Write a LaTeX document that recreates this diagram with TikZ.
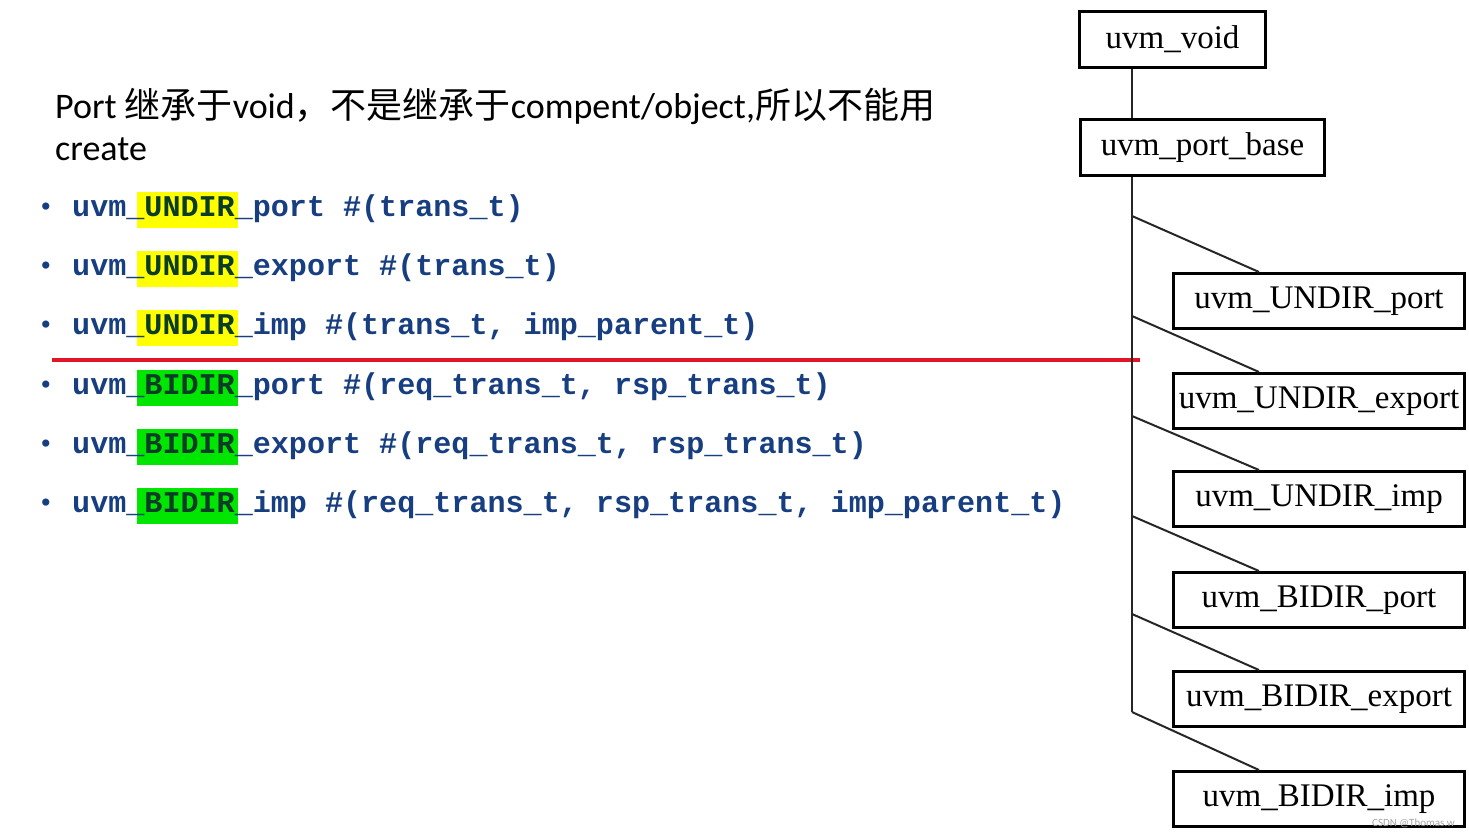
\documentclass[tikz,border=0pt]{standalone}
\usepackage{fontspec}
\setmainfont{Liberation Serif}
\newfontfamily\codef{Liberation Mono}
\newfontfamily\latf{Carlito}
\newfontfamily\cjkf{Noto Sans CJK SC}
\definecolor{codeblue}{RGB}{22,62,128}
\definecolor{hlyellow}{RGB}{255,255,0}
\definecolor{hlgreen}{RGB}{0,230,0}
\definecolor{redline}{RGB}{225,20,40}
\definecolor{hltext}{RGB}{10,60,40}
\tikzset{
 cls/.style={draw=black,line width=3pt,inner sep=0pt,anchor=north west,font=\fontsize{33}{33}\selectfont},
 code/.style={anchor=base west,inner sep=0pt,text=codeblue,font=\codef\bfseries\fontsize{30.1}{30}\selectfont},
 bul/.style={anchor=base,inner sep=0pt,text=codeblue,font=\fontsize{30}{30}\selectfont},
 link/.style={line width=2pt,draw=black!85}
}
\begin{document}
\begin{tikzpicture}[x=1pt,y=-1pt]
\useasboundingbox (0,0) rectangle (1469,836);
% title
\node[anchor=base west,inner sep=0pt,font=\fontsize{36}{36}\selectfont] (t1) at (55,118) {\latf Port \cjkf 继承于\latf void\cjkf ，不是继承于\latf compent/object,\cjkf 所以不能用};
\node[anchor=base west,inner sep=0pt,font=\latf\fontsize{36}{36}\selectfont] (t2) at (55,160) {create};
% highlights
\foreach \y/\c in {216/hlyellow,275/hlyellow,334/hlyellow,394/hlgreen,453/hlgreen,512/hlgreen}{
  \fill[\c] (137,\y-24) rectangle (238,\y+12);
}
% bullets and code
\foreach \y in {216,275,334,394,453,512}{ \node[bul] at (46,\y) {\textbullet}; }
\node[code] (c1) at (72,216) {uvm\_\textcolor{hltext}{UNDIR}\_port \#(trans\_t)};
\node[code] (c2) at (72,275) {uvm\_\textcolor{hltext}{UNDIR}\_export \#(trans\_t)};
\node[code] (c3) at (72,334) {uvm\_\textcolor{hltext}{UNDIR}\_imp \#(trans\_t, imp\_parent\_t)};
\node[code] (c4) at (72,394) {uvm\_\textcolor{hltext}{BIDIR}\_port \#(req\_trans\_t, rsp\_trans\_t)};
\node[code] (c5) at (72,453) {uvm\_\textcolor{hltext}{BIDIR}\_export \#(req\_trans\_t, rsp\_trans\_t)};
\node[code] (c6) at (72,512) {uvm\_\textcolor{hltext}{BIDIR}\_imp \#(req\_trans\_t, rsp\_trans\_t, imp\_parent\_t)};
% red line
\coordinate (rl1) at (52,360); \coordinate (rl2) at (1140,360);
\draw[redline,line width=3.5pt] (rl1) -- (rl2);
% hierarchy
\node[cls,minimum width=186pt,minimum height=56pt] (void) at (1078,10) {uvm\_void};
\node[cls,minimum width=244pt,minimum height=56pt] (base) at (1079,118) {uvm\_port\_base};
\node[cls,minimum width=291pt,minimum height=55pt] (up) at (1172,272) {uvm\_UNDIR\_port};
\node[cls,minimum width=291pt,minimum height=55pt] (ue) at (1172,372) {uvm\_UNDIR\_export};
\node[cls,minimum width=291pt,minimum height=55pt] (ui) at (1172,470) {uvm\_UNDIR\_imp};
\node[cls,minimum width=291pt,minimum height=55pt] (bp) at (1172,571) {uvm\_BIDIR\_port};
\node[cls,minimum width=291pt,minimum height=55pt] (be) at (1172,670) {uvm\_BIDIR\_export};
\node[cls,minimum width=291pt,minimum height=55pt] (bi) at (1172,770) {uvm\_BIDIR\_imp};
\draw[link] (void.south -| 1132,0) -- (base.north -| 1132,0);
\coordinate (vend) at (1132,712);
\draw[link] (base.south -| 1132,0) -- (vend);
\foreach \n/\y in {up/216,ue/316,ui/416,bp/516,be/614,bi/712}{
  \draw[link] (1132,\y) -- (\n.north west -| 1259,0);
}
\node[anchor=base east,inner sep=0pt,text=black!35,font=\latf\fontsize{11}{11}\selectfont] (wm) at (1455,826) {CSDN @Thomas.w};
\end{tikzpicture}
\end{document}
